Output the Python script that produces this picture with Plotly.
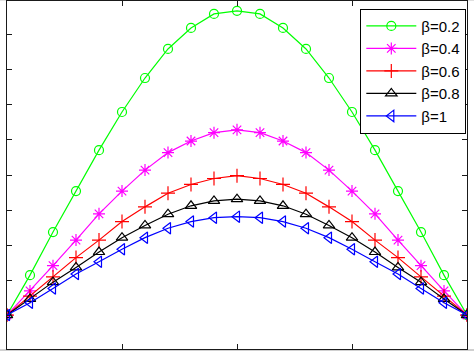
import plotly.graph_objects as go

x_vals = [0.0, 0.05, 0.1, 0.15, 0.2, 0.25, 0.3, 0.35, 0.4, 0.45, 0.5,
          0.55, 0.6, 0.65, 0.7, 0.75, 0.8, 0.85, 0.9, 0.95, 1.0]

beta_02 = [0, 1.14, 2.37, 3.54, 4.71, 5.80, 6.77, 7.60, 8.20, 8.60, 8.69,
           8.60, 8.20, 7.60, 6.77, 5.80, 4.71, 3.54, 2.37, 1.14, 0]
beta_04 = [0, 0.69, 1.41, 2.14, 2.89, 3.54, 4.14, 4.64, 4.97, 5.21, 5.29,
           5.21, 4.97, 4.64, 4.14, 3.54, 2.89, 2.14, 1.41, 0.69, 0]
beta_06 = [0, 0.54, 1.09, 1.64, 2.14, 2.67, 3.09, 3.48, 3.73, 3.90, 3.98,
           3.90, 3.73, 3.48, 3.09, 2.67, 2.14, 1.64, 1.09, 0.54, 0]
beta_08 = [0, 0.46, 0.94, 1.36, 1.80, 2.21, 2.56, 2.88, 3.12, 3.26, 3.31,
           3.26, 3.12, 2.88, 2.56, 2.21, 1.80, 1.36, 0.94, 0.46, 0]
beta_10 = [0, 0.35, 0.76, 1.17, 1.52, 1.88, 2.21, 2.48, 2.67, 2.78, 2.81,
           2.78, 2.67, 2.48, 2.21, 1.88, 1.52, 1.17, 0.76, 0.35, 0]

names = ["β=0.2", "β=0.4", "β=0.6", "β=0.8", "β=1"]
series = [beta_02, beta_04, beta_06, beta_08, beta_10]
colors = ["#00ff00", "#ff00ff", "#ff0000", "#000000", "#0000ff"]
symbols = ["circle-open", "asterisk-open", "cross-thin-open", "triangle-up-open", "triangle-left-open"]
sizes = [9, 10, 10, 10, 10]

x_ticks = [0, 0.25, 0.5, 0.75, 1]
y_ticks = [-1, 0, 1, 2, 3, 4, 5, 6, 7, 8, 9]

fig = go.Figure()
for name, ys, c, s, sz in zip(names, series, colors, symbols, sizes):
    fig.add_trace(go.Scatter(
        x=x_vals, y=ys, name=name, mode="lines+markers",
        line=dict(color=c, width=1.2),
        marker=dict(symbol=s, size=sz, color=c, line=dict(color=c, width=1.2)),
    ))

axis_common = dict(
    showgrid=False, zeroline=False, showline=True, linecolor="#1a1a1a", linewidth=1,
    mirror="ticks", ticks="inside", ticklen=5, tickcolor="#1a1a1a", showticklabels=False,
)
fig.update_xaxes(range=[0, 1], tickvals=x_ticks, **axis_common)
fig.update_yaxes(range=[-0.97, 8.97], tickvals=y_ticks, **axis_common)

fig.update_layout(
    width=474, height=351,
    margin=dict(l=7, r=7, t=1, b=2),
    paper_bgcolor="white", plot_bgcolor="white",
    font=dict(family="Liberation Sans, Arial, sans-serif", size=15, color="black"),
    legend=dict(
        x=0.9985, y=0.978, xanchor="right", yanchor="top",
        bgcolor="white", bordercolor="black", borderwidth=1,
        itemwidth=50, tracegroupgap=0,
        font=dict(size=15),
    ),
    shapes=[
        dict(type="rect", xref="paper", yref="paper", x0=-0.02, x1=1.02,
             y0=1.0, y1=1.01, fillcolor="#e0e0e0", line=dict(width=0), layer="below"),
        dict(type="rect", xref="paper", yref="paper", x0=-0.02, x1=1.02,
             y0=-0.01, y1=0.0, fillcolor="#d0d0d0", line=dict(width=0), layer="below"),
    ],
)

fig.write_html("out.html")
